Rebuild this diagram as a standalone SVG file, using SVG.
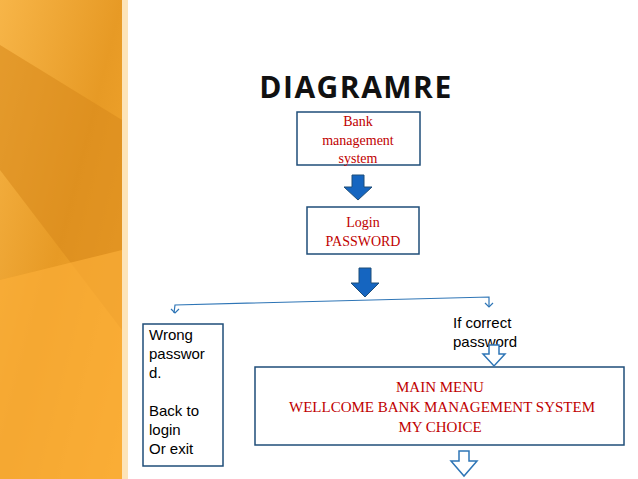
<svg xmlns="http://www.w3.org/2000/svg" width="638" height="479" viewBox="0 0 638 479">
<defs>
<style>
.box{fill:#fff;stroke:#1f4e79;stroke-width:1.5}
.ser{font-family:"Liberation Serif",serif;fill:#c00000;text-anchor:middle}
.san{font-family:"Liberation Sans",sans-serif;fill:#000;font-size:15px}
.ln{fill:none;stroke:#2e75b6;stroke-width:1.2}
.fa{fill:#1565c0;stroke:#1f4e79;stroke-width:1}
.ha{fill:#fff;stroke:#2e75b6;stroke-width:1.5}
</style>
<linearGradient id="bg" x1="0" y1="0" x2="1" y2="1">
<stop offset="0" stop-color="#f7b548"/><stop offset="0.5" stop-color="#e79a25"/><stop offset="1" stop-color="#f9ac33"/>
</linearGradient>
</defs>
<rect width="638" height="479" fill="#fff"/>
<g id="background">
<rect x="0" y="0" width="122" height="479" fill="url(#bg)"/>
<polygon points="0,45 122,120 122,330 0,170" fill="#d98a1c" opacity="0.6"/>
<polygon points="0,280 122,250 122,479 0,479" fill="#fbae38" opacity="0.7"/>
<rect x="122" y="0" width="6" height="479" fill="#fde4b8"/>
</g>
<text x="356" y="98" font-family="Open Sans,sans-serif" font-weight="bold" font-size="30" letter-spacing="1.5" text-anchor="middle" fill="#111">DIAGRAMRE</text>
<g id="n1"><rect class="box" x="297" y="112" width="123" height="53"/>
<text class="ser" font-size="14"><tspan x="358" y="126">Bank</tspan><tspan x="358" y="145">management</tspan><tspan x="358" y="163">system</tspan></text></g>
<g id="n2"><rect class="box" x="307" y="207" width="112" height="47"/>
<text class="ser" font-size="14"><tspan x="363" y="227">Login</tspan><tspan x="363" y="246">PASSWORD</tspan></text></g>
<g id="n3"><rect class="box" x="143" y="324" width="80" height="142"/>
<text class="san"><tspan x="149" y="340">Wrong</tspan><tspan x="149" y="359">passwor</tspan><tspan x="149" y="378">d.</tspan><tspan x="149" y="416">Back to</tspan><tspan x="149" y="435">login</tspan><tspan x="149" y="454">Or exit</tspan></text></g>
<g id="n4"><rect class="box" x="255" y="367" width="369" height="78"/>
<text class="ser" font-size="15"><tspan x="440" y="392">MAIN MENU</tspan><tspan x="442" y="412">WELLCOME BANK MANAGEMENT SYSTEM</tspan><tspan x="440" y="432">MY CHOICE</tspan></text></g>
<g id="label"><text class="san"><tspan x="453" y="328">If correct</tspan><tspan x="453" y="347">password</tspan></text></g>
<g id="connectors">
<polygon class="fa" points="352,175 364,175 364,187 372,187 358,200 344,187 352,187"/>
<polygon class="fa" points="359,268 371,268 371,283 379,283 365,297 351,283 359,283"/>
<polyline class="ln" points="174,313 175,305 489,297 489,307"/>
<polyline class="ln" points="171,309 175,313 179,309"/>
<polyline class="ln" points="485,303 489,307 493,303"/>
<polygon class="ha" points="489,345 499,345 499,354 505,354 494,366 483,354 489,354"/>
<polygon class="ha" points="459,451 469,451 469,461 477,461 464,476 451,461 459,461"/>
</g>
</svg>
